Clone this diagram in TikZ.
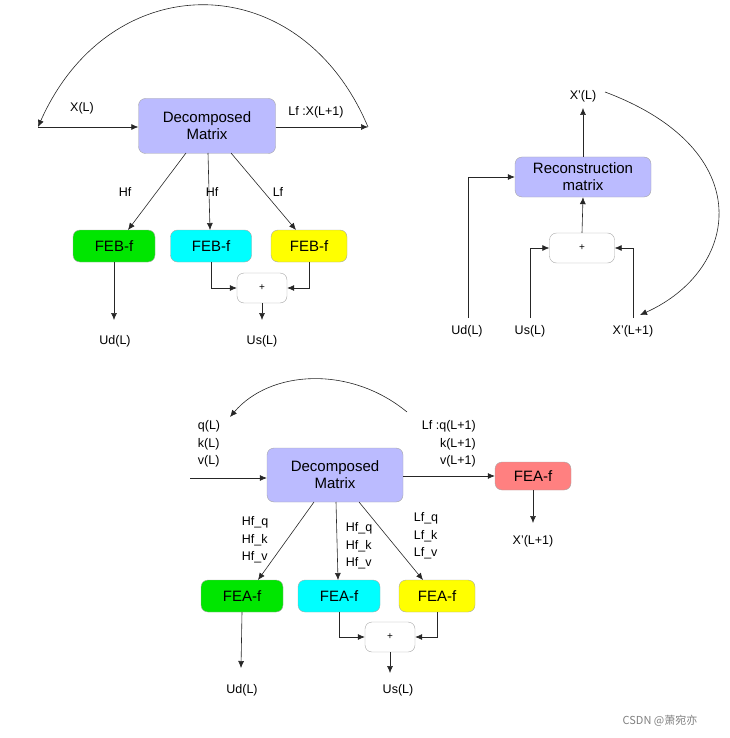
\documentclass[tikz,border=0pt]{standalone}
\usepackage{fontspec}
\usetikzlibrary{arrows.meta}
\setmainfont{Liberation Sans}
\newfontfamily\cjkf{Noto Sans CJK SC}
\definecolor{cya}{RGB}{0,255,255}
\definecolor{grn}{RGB}{0,230,0}
\definecolor{yel}{RGB}{255,255,0}
\definecolor{blu}{RGB}{187,187,255}
\definecolor{rd}{RGB}{255,128,128}
\begin{document}
\begin{tikzpicture}[x=1pt,y=-1pt,>={Latex[length=7pt,width=6pt]},
 box/.style={draw=gray!70,rounded corners=7pt,font=\fontsize{15}{17}\selectfont,align=center,inner sep=0pt},
 lbl/.style={font=\fontsize{12.5}{17.5}\selectfont,inner sep=0pt},
 ln/.style={->,semithick,black!85}]
\useasboundingbox (0,0) rectangle (729,738);
% ---------- top left
\node[box,fill=blu,minimum width=137pt,minimum height=55pt] (dm1) at (207,126) {Decomposed\\Matrix};
\coordinate (in1) at (38,127);
\coordinate (out1) at (368,127);
\draw[ln] (in1) -- (dm1.west|-in1);
\draw[ln] (dm1.east|-out1) -- (out1);
\draw[ln] (out1) .. controls (300,-35) and (110,-35) .. (in1);
\node[lbl] (xl) at (82,108) {X(L)};
\node[lbl] (lfx) at (316,112) {Lf :X(L+1)};
\node[box,fill=grn,minimum width=82pt,minimum height=32pt] (g1) at (114,246) {FEB-f};
\node[box,fill=cya,minimum width=81pt,minimum height=32pt] (c1) at (211,246) {FEB-f};
\node[box,fill=yel,minimum width=76pt,minimum height=32pt] (y1) at (309,246) {FEB-f};
\draw[ln] (186,153) -- (128,230);
\draw[ln] (208,153) -- (210,230);
\draw[ln] (231,153) -- (296,230);
\node[lbl] (h1) at (125,192) {Hf};
\node[lbl] (h2) at (212,192) {Hf};
\node[lbl] (l1) at (278,192) {Lf};
\node[box,fill=white,minimum width=50pt,minimum height=30pt,font=\normalsize] (p1) at (262,288) {+};
\draw[ln] (c1.south) |- (p1.west);
\draw[ln] (y1.south) |- (p1.east);
\node[lbl] (ud1) at (115,341) {Ud(L)};
\node[lbl] (us1) at (262,341) {Us(L)};
\draw[ln] (g1.south) -- (114,320);
\draw[ln] (p1.south) -- (262,320);
% ---------- top right
\node[box,fill=blu,minimum width=136pt,minimum height=40pt] (rm) at (583,177) {Reconstruction\\matrix};
\node[lbl] (xp) at (583,96) {X'(L)};
\draw[ln] (rm.north) -- (583,108);
\node[box,fill=white,minimum width=65pt,minimum height=30pt,font=\normalsize] (p2) at (582,248) {+};
\draw[ln] (p2.north) -- (rm.south);
\node[lbl] (ud2) at (467,331) {Ud(L)};
\node[lbl] (us2) at (530,331) {Us(L)};
\node[lbl] (xp1) at (633,331) {X'(L+1)};
\draw[ln] (468,318) |- (rm.west);
\draw[ln] (530,318) |- (p2.west);
\draw[ln] (633,318) |- (p2.east);
\draw[ln] (605,92) .. controls (760,150) and (740,270) .. (640,315);
% ---------- bottom
\node[box,fill=blu,minimum width=136pt,minimum height=54pt] (dm2) at (335,475) {Decomposed\\Matrix};
\node[box,fill=rd,minimum width=76pt,minimum height=28pt] (r2) at (533,476) {FEA-f};
\coordinate (in2) at (190,478);
\draw[ln] (in2) -- (dm2.west|-in2);
\draw[ln] (dm2.east|-r2) -- (r2.west);
\draw[ln] (r2.south) -- (533,523);
\node[lbl,align=left] (qkv) at (209,444) {q(L)\\k(L)\\v(L)};
\node[lbl,align=right,anchor=east] (qkv1) at (476,444) {Lf :q(L+1)\\k(L+1)\\v(L+1)};
\node[lbl] (xp2) at (533,541) {X'(L+1)};
\coordinate (arcs) at (407,412);
\draw[ln] (arcs) .. controls (350,365) and (270,370) .. (230,417);
\node[box,fill=grn,minimum width=82pt,minimum height=32pt] (g2) at (242,596) {FEA-f};
\node[box,fill=cya,minimum width=82pt,minimum height=32pt] (c2) at (339,596) {FEA-f};
\node[box,fill=yel,minimum width=76pt,minimum height=32pt] (y2) at (437,596) {FEA-f};
\draw[ln] (314,502) -- (258,580);
\draw[ln] (336,502) -- (338,580);
\draw[ln] (359,502) -- (423,580);
\node[lbl,align=left] (hl) at (255,540) {Hf\_q\\Hf\_k\\Hf\_v};
\node[lbl,align=left] (hm) at (359,546) {Hf\_q\\Hf\_k\\Hf\_v};
\node[lbl,align=left] (lr) at (426,536) {Lf\_q\\Lf\_k\\Lf\_v};
\node[box,fill=white,minimum width=50pt,minimum height=30pt,font=\normalsize] (p3) at (390,637) {+};
\draw[ln] (c2.south) |- (p3.west);
\draw[ln] (y2.south) |- (p3.east);
\draw[ln] (g2.south) -- (241,668);
\draw[ln] (p3.south) -- (390,673);
\node[lbl] (ud3) at (242,690) {Ud(L)};
\node[lbl] (us3) at (398,690) {Us(L)};
\node[font=\cjkf\fontsize{11}{13}\selectfont,text=gray] (wm) at (660,721) {CSDN @萧宛亦};
\end{tikzpicture}
\end{document}
